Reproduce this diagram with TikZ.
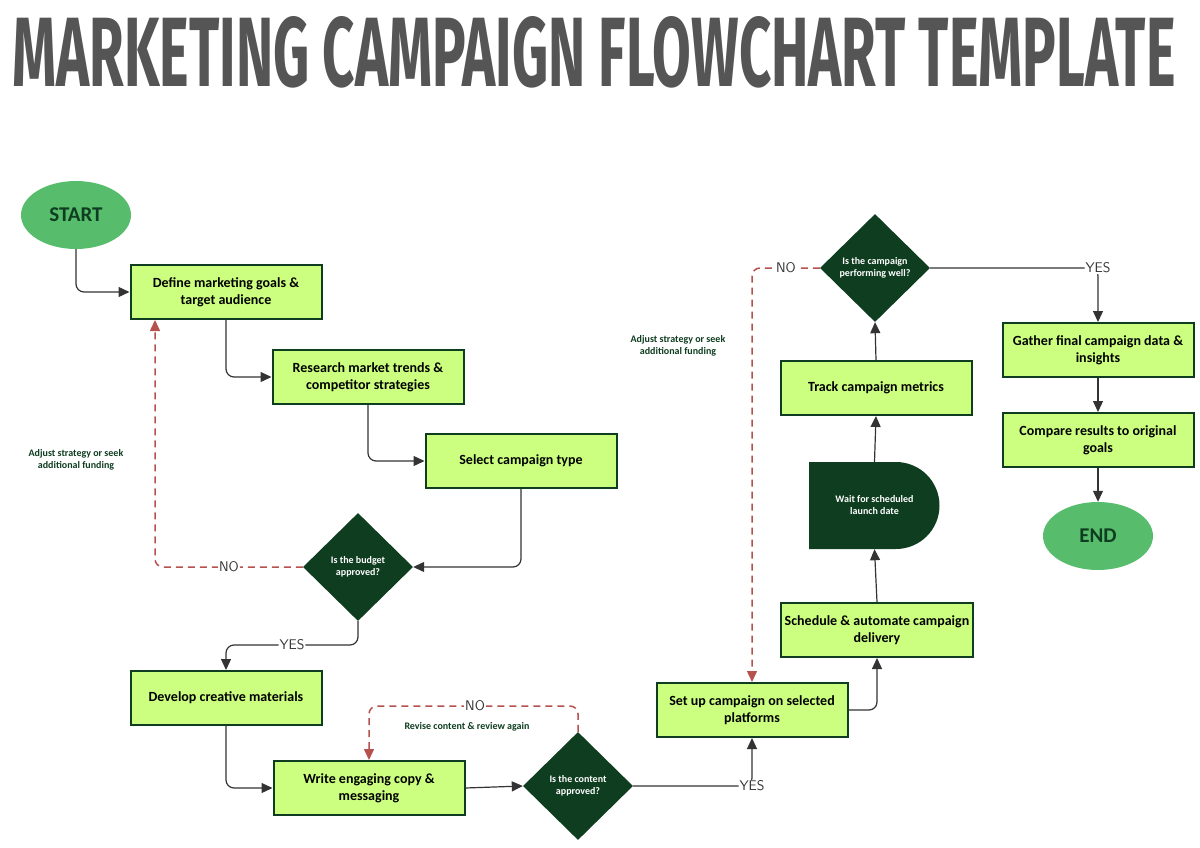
\documentclass[tikz,border=0pt]{standalone}
\usepackage{fontspec}
\setmainfont{Carlito}
\newfontfamily\titlefont{Fira Sans}
\usetikzlibrary{arrows.meta,shapes.geometric}
\definecolor{boxgreen}{HTML}{CCFF80}
\definecolor{darkgreen}{HTML}{0F3D20}
\definecolor{endgreen}{HTML}{57BD6C}
\definecolor{noline}{HTML}{B5524E}
\definecolor{titlegray}{HTML}{555555}
\tikzset{
  task/.style={draw=darkgreen, line width=2pt, fill=boxgreen, minimum width=191pt, minimum height=54pt,
    align=center, font=\bfseries\fontsize{14}{17}\selectfont, text=black},
  check/.style={diamond, fill=darkgreen, minimum width=110pt, minimum height=108pt, inner sep=0pt,
    align=center, text=white, font=\bfseries\fontsize{10}{12}\selectfont},
  term/.style={ellipse, fill=endgreen, minimum width=110pt, minimum height=68pt,
    font=\bfseries\fontsize{21}{24}\selectfont, text=darkgreen},
  flow/.style={draw=black!80, line width=1.2pt, rounded corners=8pt, -{Triangle[length=11pt,width=10pt]}},
  back/.style={draw=noline, line width=1.5pt, dashed, dash pattern=on 7pt off 5pt, rounded corners=8pt,
    -{Triangle[length=11pt,width=10pt]}},
  tag/.style={fill=white, inner sep=1pt, font=\sffamily\fontsize{14}{16}\selectfont, text=black!80},
  note/.style={align=center, text=darkgreen, font=\bfseries\fontsize{10}{12}\selectfont}
}
\begin{document}
\begin{tikzpicture}[x=1pt, y=-1pt]
  \useasboundingbox (0,0) rectangle (1200,848);
  % title
  \node[text=titlegray, font=\titlefont\bfseries\fontsize{70}{70}\selectfont] (title) at (594,52)
    {\resizebox{1163pt}{70pt}{MARKETING CAMPAIGN FLOWCHART TEMPLATE}};
  % nodes
  \node[term] (start) at (76,215) {START};
  \node[task] (goals) at (226,292) {Define marketing goals \&\\target audience};
  \node[task] (research) at (368,377) {Research market trends \&\\competitor strategies};
  \node[task] (type) at (521,461) {Select campaign type};
  \node[check] (budget) at (358,567) {Is the budget\\approved?};
  \node[task] (creative) at (226,698) {Develop creative materials};
  \node[task] (copy) at (369,788) {Write engaging copy \&\\messaging};
  \node[check] (content) at (578,786) {Is the content\\approved?};
  \node[task] (setup) at (752,710) {Set up campaign on selected\\platforms};
  \node[task] (schedule) at (877,630) {Schedule \& automate campaign\\delivery};
  \fill[darkgreen] (809,462) -- (896,462) arc[start angle=270, end angle=450, radius=43.5] -- (809,549) -- cycle;
  \node[note, text=white, minimum width=131pt, minimum height=87pt] (wait) at (874.5,505.5) {Wait for scheduled\\launch date};
  \node[task] (track) at (876,388) {Track campaign metrics};
  \node[check] (perform) at (875,268) {Is the campaign\\performing well?};
  \node[task] (gather) at (1098,350) {Gather final campaign data \&\\insights};
  \node[task] (compare) at (1098,440) {Compare results to original\\goals};
  \node[term] (finish) at (1098,536) {END};
  \node[note] (adjust1) at (76,460) {Adjust strategy or seek\\additional funding};
  \node[note] (adjust2) at (678,346) {Adjust strategy or seek\\additional funding};
  \node[note] (revise) at (467,727) {Revise content \& review again};
  \coordinate (goalsin) at (155,320);
  % connectors
  \draw[flow] (start.south) |- (goals.west);
  \draw[flow] (goals.south) |- (research.west);
  \draw[flow] (research.south) |- (type.west);
  \draw[flow] (type.south) |- (budget.east);
  \draw[back] (budget.west) -| (goalsin) node[pos=0.25, tag] {NO};
  \draw[flow] (budget.south) |- (292,645) node[tag] {YES} -| (creative.north);
  \draw[flow] (creative.south) |- (copy.west);
  \draw[flow] (copy.east) -- (content.west);
  \draw[back] (content.north) |- (475,706) node[tag] {NO} -| (copy.north);
  \draw[flow] (content.east) -| (setup.south) node[pos=0.5, tag] {YES};
  \draw[flow] (setup.east) -| (schedule.south);
  \draw[flow] (schedule.north) -- (wait.south);
  \draw[flow] (wait.north) -- (track.south);
  \draw[flow] (track.north) -- (perform.south);
  \draw[back] (perform.west) -| (setup.north) node[pos=0.25, tag] {NO};
  \draw[flow] (perform.east) -| (gather.north) node[pos=0.5, tag] {YES};
  \draw[flow] (gather.south) -- (compare.north);
  \draw[flow] (compare.south) -- (finish.north);
\end{tikzpicture}
\end{document}
